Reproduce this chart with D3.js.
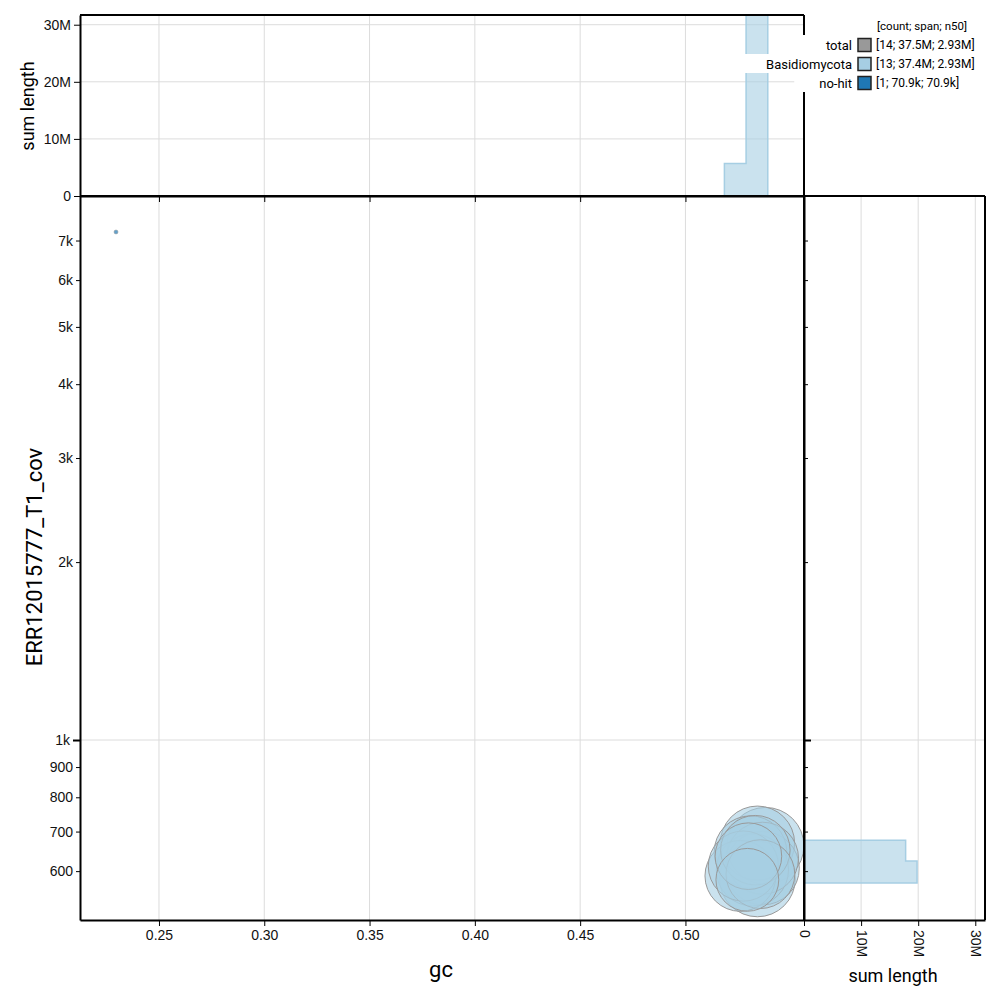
<!doctype html>
<html>

<head>
    <meta charset="utf-8">
    <title>blob plot</title>
    <style>
        body {
            margin: 0;
        }

        svg {
            font-family: Roboto, "Noto Sans", sans-serif;
            background: #fff;
        }

        .grid line {
            stroke: #dcdcdc;
            stroke-width: 1;
        }

        .axis path,
        .axis line {
            stroke: #000;
        }

        .axis path {
            stroke-width: 2;
        }

        .axis text {
            font-size: 14px;
            fill: #111;
        }
    </style>
    <script src="https://cdn.jsdelivr.net/npm/d3@7"></script>
</head>

<body>
    <svg width="1000" height="1000"></svg>
    <script>
        // Basidiomycota contigs (gc, coverage, length)
        var gcValues = [0.5380, 0.5342, 0.5309, 0.5366, 0.5332, 0.5299,
            0.5342, 0.5366, 0.5318, 0.5261, 0.5275, 0.5356, 0.5294];
        var covValues = [662, 669, 646, 631, 651, 636,
            582, 607, 603, 589, 612, 593, 580];
        var lengths = [3.30e6, 3.10e6, 2.98e6, 2.93e6, 2.75e6, 2.55e6,
            3.20e6, 3.05e6, 2.95e6, 2.85e6, 2.80e6, 2.70e6, 2.30e6];

        // no-hit contig
        var noHitGc = [0.2296];
        var noHitCov = [7237];
        var noHitLen = [70900];

        // histogram bins (sum length per bin)
        var gcBinEdges = [0.5185, 0.5288, 0.5391];
        var gcBinSpan = [5.7e6, 31.7e6];
        var covBinEdges = [573, 624, 677];
        var covBinSpan = [19.8e6, 17.8e6];

        var gcTicks = [0.25, 0.30, 0.35, 0.40, 0.45, 0.50];
        var covTicks = [600, 700, 800, 900, 1000, 2000, 3000, 4000, 5000, 6000, 7000];
        var spanTicks = [0, 10e6, 20e6, 30e6];

        var legendNames = ["total", "Basidiomycota", "no-hit"];
        var legendCounts = [14, 13, 1];
        var legendSpans = ["37.5M", "37.4M", "70.9k"];
        var legendN50 = ["2.93M", "2.93M", "70.9k"];
        var legendColors = ["#999999", "#a6cee3", "#1f78b4"];

        var svg = d3.select("svg");

        var x = d3.scaleLinear().domain([0.2125, 0.5563]).range([80, 804]),
            y = d3.scaleLog().domain([496, 8326]).range([920, 196]),
            hy = d3.scaleLinear().domain([0, 31.7e6]).range([196, 15]),
            hx = d3.scaleLinear().domain([0, 31.7e6]).range([804, 985]),
            r = d3.scaleSqrt().domain([70900, 2930000]).range([2, 36]);

        var covFmt = function (v) { return v >= 1000 ? (v / 1000) + "k" : v; };
        var spanFmt = function (v) { return v === 0 ? "0" : (v / 1e6) + "M"; };

        // gridlines
        var grid = svg.append("g").attr("class", "grid");
        grid.selectAll(".gx").data(gcTicks).enter().append("line")
            .attr("x1", function (d) { return x(d); }).attr("x2", function (d) { return x(d); })
            .attr("y1", 15).attr("y2", 920);
        grid.selectAll(".gy").data([1000]).enter().append("line")
            .attr("x1", 80).attr("x2", 985)
            .attr("y1", function (d) { return y(d); }).attr("y2", function (d) { return y(d); });
        grid.selectAll(".gh").data(spanTicks.slice(1)).enter().append("line")
            .attr("x1", 80).attr("x2", 804)
            .attr("y1", function (d) { return hy(d); }).attr("y2", function (d) { return hy(d); });
        grid.selectAll(".gv").data(spanTicks.slice(1)).enter().append("line")
            .attr("x1", function (d) { return hx(d); }).attr("x2", function (d) { return hx(d); })
            .attr("y1", 196).attr("y2", 920);

        // top histogram (gc)
        var topPts = [[gcBinEdges[0], 0]];
        gcBinSpan.forEach(function (s, i) {
            topPts.push([gcBinEdges[i], s]);
            topPts.push([gcBinEdges[i + 1], s]);
        });
        topPts.push([gcBinEdges[gcBinEdges.length - 1], 0]);
        svg.append("path")
            .attr("d", d3.line().x(function (d) { return x(d[0]); }).y(function (d) { return hy(d[1]); })(topPts) + "Z")
            .attr("fill", "#a6cee3").attr("fill-opacity", 0.6)
            .attr("stroke", "#a6cee3").attr("stroke-width", 1.5);

        // right histogram (coverage)
        var rightPts = [[covBinEdges[0], 0]];
        covBinSpan.forEach(function (s, i) {
            rightPts.push([covBinEdges[i], s]);
            rightPts.push([covBinEdges[i + 1], s]);
        });
        rightPts.push([covBinEdges[covBinEdges.length - 1], 0]);
        svg.append("path")
            .attr("d", d3.line().x(function (d) { return hx(d[1]); }).y(function (d) { return y(d[0]); })(rightPts) + "Z")
            .attr("fill", "#a6cee3").attr("fill-opacity", 0.6)
            .attr("stroke", "#a6cee3").attr("stroke-width", 1.5);

        // bubbles
        svg.append("clipPath").attr("id", "main-clip")
            .append("rect").attr("x", 80).attr("y", 196).attr("width", 724).attr("height", 724);

        var contigs = gcValues.map(function (g, i) {
            return { gc: g, cov: covValues[i], len: lengths[i] };
        }).sort(function (a, b) { return b.len - a.len; });

        var plot = svg.append("g").attr("clip-path", "url(#main-clip)");
        plot.selectAll(".bubble").data(contigs).enter().append("circle")
            .attr("class", "bubble")
            .attr("cx", function (d) { return x(d.gc); })
            .attr("cy", function (d) { return y(d.cov); })
            .attr("r", function (d) { return r(d.len); })
            .attr("fill", "#a6cee3").attr("fill-opacity", 0.6)
            .attr("stroke", "#999").attr("stroke-width", 1);

        plot.selectAll(".nohit").data(noHitGc).enter().append("circle")
            .attr("cx", function (d) { return x(d); })
            .attr("cy", function (d, i) { return y(noHitCov[i]); })
            .attr("r", function (d, i) { return r(noHitLen[i]); })
            .attr("fill", "#1f78b4").attr("fill-opacity", 0.7)
            .attr("stroke", "#999").attr("stroke-width", 0.5);

        // axes
        var yAxis = svg.append("g").attr("class", "axis")
            .attr("transform", "translate(80,0)")
            .call(d3.axisLeft(y).tickValues(covTicks).tickFormat(covFmt).tickSize(4).tickSizeOuter(0).tickPadding(3));
        yAxis.selectAll(".tick").filter(function (d) { return d === 1000; })
            .each(function () {
                d3.select(this).select("line").attr("x2", -7).attr("stroke-width", 2);
                d3.select(this).select("text").attr("x", -10);
            });

        var yAxisR = svg.append("g").attr("class", "axis")
            .attr("transform", "translate(804,0)")
            .call(d3.axisRight(y).tickValues(covTicks).tickFormat("").tickSize(4).tickSizeOuter(0));
        yAxisR.selectAll(".tick").filter(function (d) { return d === 1000; })
            .select("line").attr("x2", 7).attr("stroke-width", 2);

        svg.append("g").attr("class", "axis")
            .attr("transform", "translate(0,920)")
            .call(d3.axisBottom(x).tickValues(gcTicks).tickFormat(d3.format(".2f")).tickSize(6).tickSizeOuter(0).tickPadding(4));

        svg.append("g").attr("class", "axis")
            .attr("transform", "translate(0,196)")
            .call(d3.axisBottom(x).tickValues(gcTicks).tickFormat("").tickSize(6).tickSizeOuter(0));

        svg.append("g").attr("class", "axis")
            .attr("transform", "translate(80,0)")
            .call(d3.axisLeft(hy).tickValues(spanTicks).tickFormat(spanFmt).tickSize(6).tickSizeOuter(0).tickPadding(3));

        var hxAxis = svg.append("g").attr("class", "axis")
            .attr("transform", "translate(0,920)")
            .call(d3.axisBottom(hx).tickValues(spanTicks).tickFormat(spanFmt).tickSize(6).tickSizeOuter(0));
        hxAxis.selectAll("text")
            .attr("transform", "rotate(90)")
            .attr("x", 10).attr("y", 0).attr("dy", "0.35em")
            .attr("text-anchor", "start");

        // frame lines
        var frame = [
            [80, 15, 804, 15],
            [804, 15, 804, 920],
            [80, 196, 985, 196],
            [985, 196, 985, 920]
        ];
        svg.selectAll(".frame").data(frame).enter().append("line")
            .attr("x1", function (d) { return d[0]; }).attr("y1", function (d) { return d[1]; })
            .attr("x2", function (d) { return d[2]; }).attr("y2", function (d) { return d[3]; })
            .attr("stroke", "#000").attr("stroke-width", 2);

        // axis titles
        svg.append("text").attr("x", 441).attr("y", 977)
            .attr("text-anchor", "middle").attr("font-size", 22).text("gc");
        svg.append("text").attr("x", 893).attr("y", 982)
            .attr("text-anchor", "middle").attr("font-size", 18).text("sum length");
        svg.append("text").attr("transform", "translate(42,557) rotate(-90)")
            .attr("text-anchor", "middle").attr("font-size", 22).text("ERR12015777_T1_cov");
        svg.append("text").attr("transform", "translate(34,106) rotate(-90)")
            .attr("text-anchor", "middle").attr("font-size", 18).text("sum length");

        // legend
        var legend = svg.append("g").attr("font-size", 13);
        legend.append("text").attr("x", 877).attr("y", 30)
            .attr("font-size", 11.5).text("[count; span; n50]");

        var rows = legend.selectAll(".row").data(legendNames).enter().append("g")
            .attr("transform", function (d, i) { return "translate(0," + (45 + i * 19) + ")"; });

        rows.append("rect").attr("class", "lbg")
            .attr("y", -10).attr("height", 19).attr("fill", "#fff");
        rows.append("text").attr("class", "lname")
            .attr("x", 852).attr("dy", "0.35em").attr("text-anchor", "end")
            .text(function (d) { return d; });
        rows.each(function () {
            var g = d3.select(this);
            var w = g.select(".lname").node().getComputedTextLength();
            g.select(".lbg").attr("x", 852 - w - 25).attr("width", w + 28);
        });
        rows.append("rect")
            .attr("x", 858).attr("y", -6.5).attr("width", 13).attr("height", 13)
            .attr("fill", function (d, i) { return legendColors[i]; })
            .attr("stroke", "#222").attr("stroke-width", 1.5);
        rows.append("text")
            .attr("x", 876).attr("dy", "0.35em").attr("font-size", 12)
            .text(function (d, i) {
                return "[" + legendCounts[i] + "; " + legendSpans[i] + "; " + legendN50[i] + "]";
            });
    </script>
</body>

</html>
